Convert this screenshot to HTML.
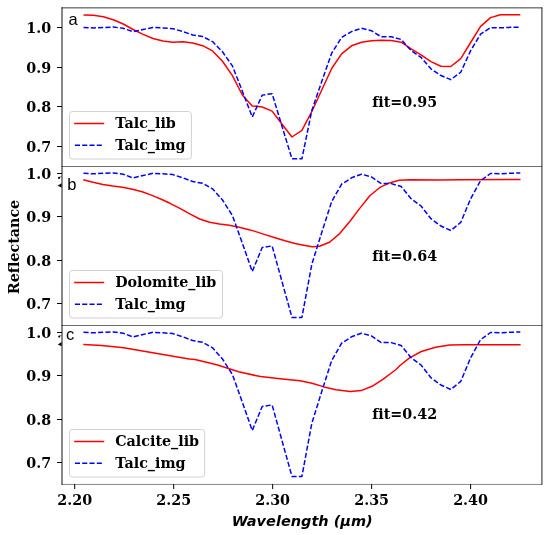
<!DOCTYPE html>
<html><head><meta charset="utf-8"><style>
html,body{margin:0;padding:0;background:#fff;width:550px;height:535px;overflow:hidden}
svg{display:block}
.s{font-family:'DejaVu Serif',serif;font-weight:bold;font-size:14.3px;fill:#000;font-variant-ligatures:none;font-feature-settings:'liga' 0}
svg text{font-variant-ligatures:none}
.lab{font-family:'Liberation Sans',Arial,sans-serif;font-size:16.5px;fill:#000}
.xl{font-family:'DejaVu Sans',sans-serif;font-weight:bold;font-style:italic;font-size:14.5px;fill:#000}
.red{fill:none;stroke:#ff0000;stroke-width:1.5;stroke-linejoin:round;stroke-linecap:butt}
.blue{fill:none;stroke:#0000ff;stroke-width:1.5;stroke-dasharray:5.1 2.2;stroke-linejoin:round}
.lred{stroke:#ff0000;stroke-width:1.5}
.lblue{stroke:#0000ff;stroke-width:1.5;stroke-dasharray:5.1 2.2}
.tick{stroke:#000;stroke-width:1}
.sp{stroke:#000;stroke-width:0.9;stroke-opacity:0.55}
.leg{fill:#fff;fill-opacity:0.8;stroke:#d2d2d2;stroke-width:1}
</style></head><body>
<svg width="550" height="535" viewBox="0 0 550 535">
<rect width="550" height="535" fill="#fff"/>
<clipPath id="cp0"><rect x="62.0" y="7.5" width="479.70000000000005" height="159.0"/></clipPath><g clip-path="url(#cp0)"><polyline class="red" points="83.50,14.90 93.43,15.30 103.35,16.70 113.28,19.80 123.21,24.00 133.14,29.50 143.06,34.40 152.99,38.50 162.92,41.10 172.85,42.20 182.77,41.80 192.70,43.00 202.63,45.70 212.55,50.90 222.48,61.20 232.41,75.60 242.34,95.00 252.26,105.90 262.19,107.00 272.12,111.10 282.05,124.20 291.97,137.00 301.90,130.40 311.83,111.50 321.75,90.00 331.68,68.50 341.61,53.80 351.54,45.80 361.46,42.20 371.39,40.70 381.32,40.20 391.25,40.40 401.17,42.20 411.10,48.90 421.03,54.90 430.95,61.60 440.88,66.20 450.81,66.50 460.74,58.60 470.66,42.50 480.59,26.40 490.52,17.60 500.45,14.70 510.37,14.70 520.30,14.70"/><polyline class="blue" points="83.50,27.45 93.43,27.91 103.35,27.45 113.28,27.09 123.21,28.27 133.14,31.74 143.06,29.46 152.99,27.45 162.92,27.91 172.85,28.64 182.77,31.55 192.70,34.93 202.63,36.57 212.55,41.59 222.48,51.80 232.41,65.94 242.34,91.20 252.26,117.01 262.19,95.12 272.12,93.66 282.05,126.40 291.97,158.87 301.90,158.87 311.83,110.44 321.75,81.44 331.68,53.17 341.61,37.39 351.54,31.55 361.46,28.27 371.39,30.73 381.32,36.84 391.25,36.84 401.17,39.49 411.10,50.61 421.03,57.27 430.95,68.85 440.88,75.51 450.81,79.62 460.74,72.23 470.66,50.61 480.59,34.11 490.52,27.63 500.45,27.81 510.37,27.36 520.30,27.18"/></g><line class="tick" x1="57" y1="27.5" x2="62" y2="27.5"/><text x="51.2" y="33.05" text-anchor="end" class="s">1.0</text><line class="tick" x1="57" y1="67.5" x2="62" y2="67.5"/><text x="51.2" y="72.60" text-anchor="end" class="s">0.9</text><line class="tick" x1="57" y1="106.5" x2="62" y2="106.5"/><text x="51.2" y="112.20" text-anchor="end" class="s">0.8</text><line class="tick" x1="57" y1="146.5" x2="62" y2="146.5"/><text x="51.2" y="151.80" text-anchor="end" class="s">0.7</text><text x="68.6" y="24.9" class="lab">a</text><rect x="69.5" y="111.5" width="121.9" height="47.5" rx="3" class="leg"/><line class="lred" x1="74.2" y1="123.5" x2="104.2" y2="123.5"/><line class="lblue" x1="74.9" y1="145.2" x2="102.0" y2="145.2"/><text x="115.2" y="128.20" class="s">Talc_lib</text><text x="115.2" y="150.20" class="s">Talc_img</text><text x="372.2" y="106.60" class="s">fit=0.95</text><clipPath id="cp1"><rect x="62.0" y="166.5" width="479.70000000000005" height="159.0"/></clipPath><g clip-path="url(#cp1)"><polyline class="red" points="83.30,179.80 93.10,182.30 102.90,184.40 112.70,186.00 122.60,187.30 132.40,189.30 142.20,191.80 152.00,195.40 161.80,199.50 170.00,203.30 179.90,208.40 189.80,213.90 199.70,219.00 209.60,222.30 219.50,224.10 229.30,225.30 239.20,227.30 250.00,229.90 255.00,231.40 265.00,234.60 275.00,237.70 285.00,240.80 295.00,243.50 305.00,245.50 312.30,246.80 319.50,246.30 329.50,242.30 339.70,233.60 349.80,221.50 359.70,208.40 369.60,196.00 379.50,187.70 389.30,182.90 399.20,180.30 410.00,179.70 440.00,180.00 460.00,179.70 520.50,179.60"/><polyline class="blue" points="83.50,173.30 93.43,173.80 103.35,173.30 113.28,172.90 123.21,174.20 133.14,178.00 143.06,175.50 152.99,173.30 162.92,173.80 172.85,174.60 182.77,177.80 192.70,181.50 202.63,183.30 212.55,188.80 222.48,200.00 232.41,215.50 242.34,243.20 252.26,271.50 262.19,247.50 272.12,245.90 282.05,281.80 291.97,317.40 301.90,317.40 311.83,264.30 321.75,232.50 331.68,201.50 341.61,184.20 351.54,177.80 361.46,174.20 371.39,176.90 381.32,183.60 391.25,183.60 401.17,186.50 411.10,198.70 421.03,206.00 430.95,218.70 440.88,226.00 450.81,230.50 460.74,222.40 470.66,198.70 480.59,180.60 490.52,173.50 500.45,173.70 510.37,173.20 520.30,173.00"/></g><line class="tick" x1="57" y1="173.5" x2="62" y2="173.5"/><text x="51.2" y="178.90" text-anchor="end" class="s">1.0</text><line class="tick" x1="57" y1="216.5" x2="62" y2="216.5"/><text x="51.2" y="222.30" text-anchor="end" class="s">0.9</text><line class="tick" x1="57" y1="260.5" x2="62" y2="260.5"/><text x="51.2" y="265.70" text-anchor="end" class="s">0.8</text><line class="tick" x1="57" y1="303.5" x2="62" y2="303.5"/><text x="51.2" y="309.10" text-anchor="end" class="s">0.7</text><text x="67.2" y="189.5" class="lab">b</text><rect x="69.5" y="270.5" width="153.0" height="47.5" rx="3" class="leg"/><line class="lred" x1="74.2" y1="282.5" x2="104.2" y2="282.5"/><line class="lblue" x1="74.9" y1="304.2" x2="102.0" y2="304.2"/><text x="115.2" y="287.20" class="s">Dolomite_lib</text><text x="115.2" y="309.20" class="s">Talc_img</text><text x="372.2" y="260.90" class="s">fit=0.64</text><clipPath id="cp2"><rect x="62.0" y="325.5" width="479.70000000000005" height="159.0"/></clipPath><g clip-path="url(#cp2)"><polyline class="red" points="83.30,344.40 101.80,345.50 123.60,347.70 145.50,351.40 167.30,355.30 189.10,359.00 195.00,359.60 216.80,364.80 227.70,368.30 238.60,371.80 260.50,376.60 282.30,379.00 300.00,380.80 312.00,383.20 324.00,386.90 336.00,389.70 350.20,391.60 361.10,390.60 372.00,386.30 382.90,379.30 396.00,369.50 400.00,365.50 409.50,357.80 421.30,351.50 435.50,347.30 449.60,344.90 463.80,344.70 478.00,344.70 520.60,344.70"/><polyline class="blue" points="83.50,332.30 93.43,332.80 103.35,332.30 113.28,331.90 123.21,333.20 133.14,337.00 143.06,334.50 152.99,332.30 162.92,332.80 172.85,333.60 182.77,336.80 192.70,340.50 202.63,342.30 212.55,347.80 222.48,359.00 232.41,374.50 242.34,402.20 252.26,430.50 262.19,406.50 272.12,404.90 282.05,440.80 291.97,476.40 301.90,476.40 311.83,423.30 321.75,391.50 331.68,360.50 341.61,343.20 351.54,336.80 361.46,333.20 371.39,335.90 381.32,342.60 391.25,342.60 401.17,345.50 411.10,357.70 421.03,365.00 430.95,377.70 440.88,385.00 450.81,389.50 460.74,381.40 470.66,357.70 480.59,339.60 490.52,332.50 500.45,332.70 510.37,332.20 520.30,332.00"/></g><line class="tick" x1="57" y1="332.5" x2="62" y2="332.5"/><text x="51.2" y="337.90" text-anchor="end" class="s">1.0</text><line class="tick" x1="57" y1="375.5" x2="62" y2="375.5"/><text x="51.2" y="381.30" text-anchor="end" class="s">0.9</text><line class="tick" x1="57" y1="419.5" x2="62" y2="419.5"/><text x="51.2" y="424.70" text-anchor="end" class="s">0.8</text><line class="tick" x1="57" y1="462.5" x2="62" y2="462.5"/><text x="51.2" y="468.10" text-anchor="end" class="s">0.7</text><text x="65.9" y="340.0" class="lab">c</text><rect x="69.5" y="429.5" width="135.2" height="47.5" rx="3" class="leg"/><line class="lred" x1="74.2" y1="441.5" x2="104.2" y2="441.5"/><line class="lblue" x1="74.9" y1="463.2" x2="102.0" y2="463.2"/><text x="115.2" y="446.20" class="s">Calcite_lib</text><text x="115.2" y="468.20" class="s">Talc_img</text><text x="372.2" y="419.10" class="s">fit=0.42</text>

<line stroke="#000" stroke-width="0.77" x1="61.5" y1="7.865" x2="542.2" y2="7.865"/>
<line stroke="#000" stroke-width="0.75" stroke-opacity="0.75" x1="61.5" y1="166.5" x2="542.2" y2="166.5"/>
<line stroke="#000" stroke-width="0.75" stroke-opacity="0.78" x1="61.5" y1="325.5" x2="542.2" y2="325.5"/>
<line stroke="#000" stroke-width="0.75" stroke-opacity="0.62" x1="61.5" y1="484.45" x2="542.2" y2="484.45"/>
<line stroke="#000" stroke-width="0.94" x1="62.0" y1="7.4" x2="62.0" y2="484.8"/>
<line stroke="#000" stroke-width="0.87" x1="541.935" y1="7.4" x2="541.935" y2="484.8"/>
<g fill="#000">
<ellipse cx="59.0" cy="177.9" rx="1.0" ry="1.1"/><line x1="59" y1="177.6" x2="61.5" y2="176.6" stroke="#000" stroke-width="0.6"/>
<path d="M57.6,185.8 L61.6,183.2 L61.6,187.4 Z"/>
<ellipse cx="59.2" cy="336.6" rx="1.0" ry="1.1"/><line x1="59.2" y1="336.3" x2="61.5" y2="335.3" stroke="#000" stroke-width="0.6"/>
<path d="M57.8,344.6 L61.6,342.0 L61.6,346.2 Z"/>
</g>

<line class="tick" x1="74.70" y1="484" x2="74.70" y2="489"/><text x="74.70" y="505.2" text-anchor="middle" class="s">2.20</text><line class="tick" x1="173.68" y1="484" x2="173.68" y2="489"/><text x="173.68" y="505.2" text-anchor="middle" class="s">2.25</text><line class="tick" x1="272.65" y1="484" x2="272.65" y2="489"/><text x="272.65" y="505.2" text-anchor="middle" class="s">2.30</text><line class="tick" x1="371.63" y1="484" x2="371.63" y2="489"/><text x="371.63" y="505.2" text-anchor="middle" class="s">2.35</text><line class="tick" x1="470.60" y1="484" x2="470.60" y2="489"/><text x="470.60" y="505.2" text-anchor="middle" class="s">2.40</text>
<text x="302.3" y="525.5" text-anchor="middle" class="xl">Wavelength (μm)</text>
<text transform="translate(18.7,247) rotate(-90)" text-anchor="middle" class="s">Reflectance</text>
</svg>
</body></html>
